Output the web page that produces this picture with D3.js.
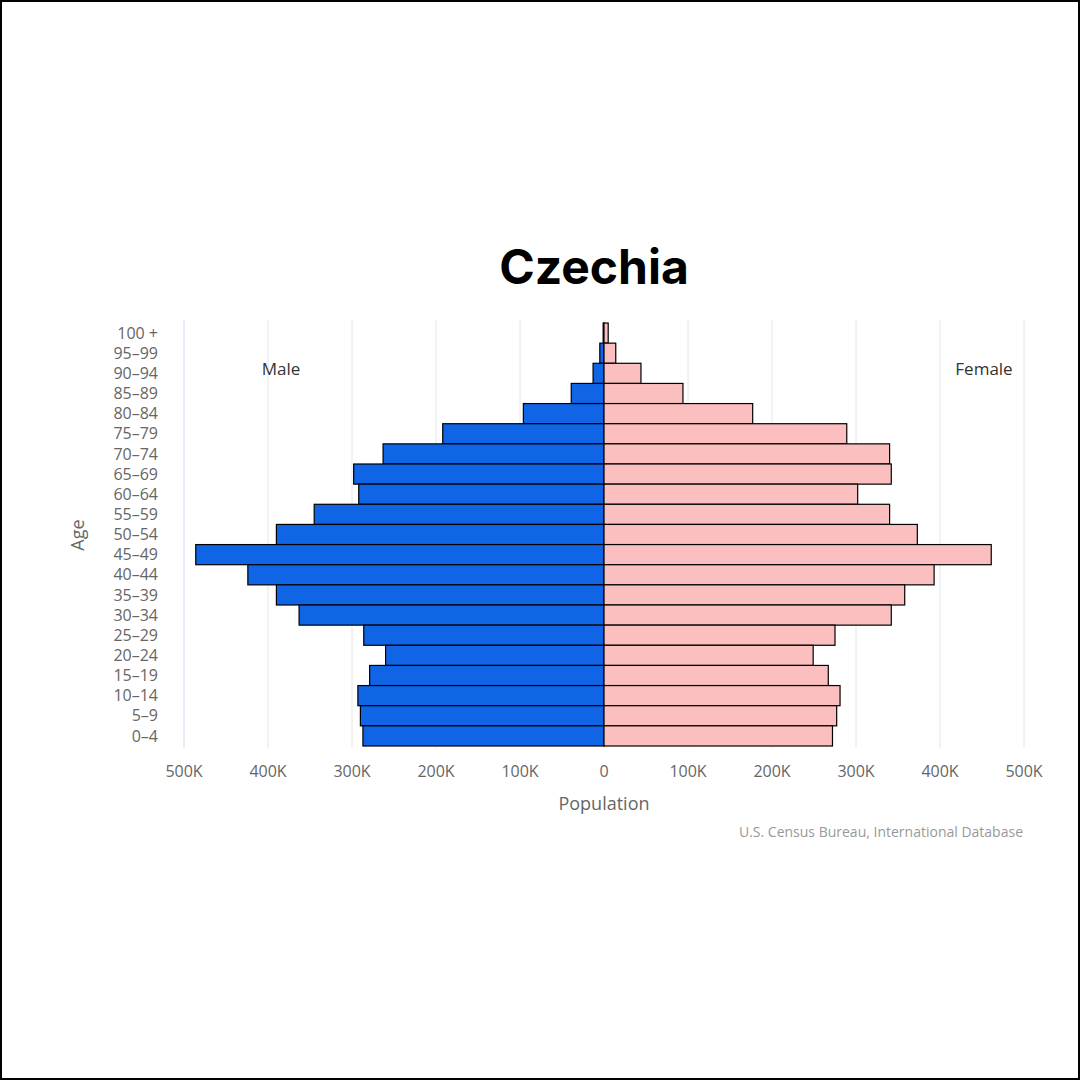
<!DOCTYPE html>
<html><head><meta charset="utf-8">
<script src="https://cdn.jsdelivr.net/npm/d3@7"></script>
<style>body{margin:0;background:#fff}svg{display:block}</style>
</head><body>
<svg id="chart" width="1080" height="1080"></svg>
<script>
const ages = ["100 +","95-99","90-94","85-89","80-84","75-79","70-74","65-69","60-64","55-59","50-54","45-49","40-44","35-39","30-34","25-29","20-24","15-19","10-14","5-9","0-4"];
const male = [1000,5000,13000,39000,96000,192000,263000,298000,292000,345000,390000,486000,424000,390000,363000,286000,260000,279000,293000,290000,287000];
const female = [5000,14000,44000,94000,177000,289000,340000,342000,302000,340000,373000,461000,393000,358000,342000,275000,249000,267000,281000,277000,272000];
const ticks = [-500000,-400000,-300000,-200000,-100000,0,100000,200000,300000,400000,500000];

const svg = d3.select("#chart");
svg.append("rect").attr("x",1).attr("y",1).attr("width",1078).attr("height",1078)
    .attr("fill","#fff").attr("stroke","#000").attr("stroke-width",2);

const x = d3.scaleLinear().domain([-500000,500000]).range([184,1024]);
const y = d3.scaleBand().domain(ages).range([323,746]);
const font = "'Open Sans', 'DejaVu Sans', sans-serif";

// grid
svg.append("g").selectAll("line").data(ticks).enter().append("line")
    .attr("x1",d=>x(d)).attr("x2",d=>x(d)).attr("y1",320).attr("y2",748)
    .attr("stroke",d=>d==-500000?"#ccd6eb":"#e6e6e6").attr("stroke-width",1);

// bars
svg.append("g").selectAll("rect").data(ages).enter().append("rect")
    .attr("x",(d,i)=>x(-male[i])).attr("y",d=>y(d))
    .attr("width",(d,i)=>x(0)-x(-male[i])).attr("height",y.bandwidth())
    .attr("fill","#1065e6").attr("stroke","#000").attr("stroke-width",1.2);
svg.append("g").selectAll("rect").data(ages).enter().append("rect")
    .attr("x",x(0)).attr("y",d=>y(d))
    .attr("width",(d,i)=>x(female[i])-x(0)).attr("height",y.bandwidth())
    .attr("fill","#fbbfbf").attr("stroke","#000").attr("stroke-width",1.2);

// age labels
svg.append("g").selectAll("text").data(ages).enter().append("text")
    .attr("x",158).attr("y",d=>y(d)+y.bandwidth()/2).attr("dy","0.35em")
    .attr("text-anchor","end").attr("font-family",font).attr("font-size",16)
    .attr("fill","#666").text(d=>d.replace("-","–"));

// x tick labels
svg.append("g").selectAll("text").data(ticks).enter().append("text")
    .attr("x",d=>x(d)).attr("y",777).attr("text-anchor","middle")
    .attr("font-family",font).attr("font-size",16).attr("fill","#666")
    .text(d=>d==0?"0":Math.abs(d/1000)+"K");

svg.append("text").attr("x",604).attr("y",810).attr("text-anchor","middle")
    .attr("font-family",font).attr("font-size",18).attr("fill","#666").text("Population");
svg.append("text").attr("transform","translate(84,535) rotate(-90)").attr("text-anchor","middle")
    .attr("font-family",font).attr("font-size",18).attr("fill","#666").text("Age");
svg.append("text").attr("x",1023).attr("y",837).attr("text-anchor","end")
    .attr("font-family",font).attr("font-size",14).attr("fill","#999")
    .text("U.S. Census Bureau, International Database");
svg.append("text").attr("x",281).attr("y",375).attr("text-anchor","middle")
    .attr("font-family",font).attr("font-size",17).attr("fill","#333").text("Male");
svg.append("text").attr("x",984).attr("y",375).attr("text-anchor","middle")
    .attr("font-family",font).attr("font-size",17).attr("fill","#333").text("Female");
svg.append("text").attr("x",594).attr("y",284).attr("text-anchor","middle")
    .attr("font-family","Inter, 'Open Sans', sans-serif").attr("font-weight","bold")
    .attr("font-size",48).attr("fill","#000").text("Czechia");
</script>
</body></html>
